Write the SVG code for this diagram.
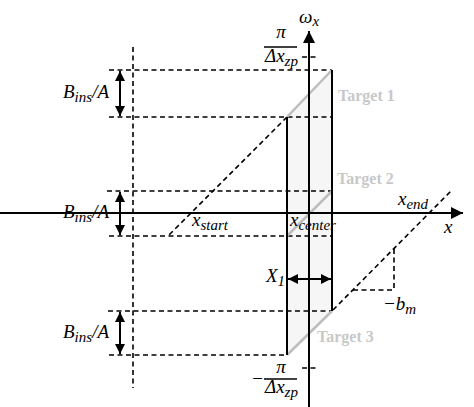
<svg xmlns="http://www.w3.org/2000/svg" width="474" height="407" viewBox="0 0 474 407">
<defs>
<style>
.dash{stroke:#000;stroke-width:1.6;stroke-dasharray:5 3.5;fill:none}
.solid{stroke:#000;stroke-width:2;fill:none}
.gray{stroke:#bdbdbd;stroke-width:2.5;fill:none}
.m{font-family:"Liberation Serif","DejaVu Serif",serif;font-style:italic;font-size:19px;fill:#000}
.s{font-size:15px}
.t{font-family:"Liberation Serif","Times New Roman",serif;font-weight:bold;font-size:16px;fill:#c8c8c8}
</style>
<marker id="ah" viewBox="0 0 10 10" refX="10" refY="5" markerWidth="10" markerHeight="10" markerUnits="userSpaceOnUse" orient="auto-start-reverse">
<path d="M0,0 L10,5 L0,10 Z" fill="#000"/>
</marker>
<marker id="ax" viewBox="0 0 10 10" refX="10" refY="5" markerWidth="12" markerHeight="12" markerUnits="userSpaceOnUse" orient="auto">
<path d="M0,0 L10,5 L0,10 Z" fill="#000"/>
</marker>
</defs>
<rect width="474" height="407" fill="#fff"/>
<g id="band">
<polygon points="287,117 332,70 332,311 287,355" fill="#f6f6f6"/>
</g>
<g id="connectors">
<line class="dash" x1="133" y1="47" x2="133" y2="388"/>
<line class="dash" x1="109" y1="70" x2="332" y2="70"/>
<line class="dash" x1="109" y1="117" x2="332" y2="117"/>
<line class="dash" x1="107" y1="191" x2="332" y2="191"/>
<line class="dash" x1="109" y1="236" x2="332" y2="236"/>
<line class="dash" x1="108" y1="311" x2="332" y2="311"/>
<line class="dash" x1="109" y1="355" x2="287" y2="355"/>
<line class="dash" x1="287" y1="117" x2="168" y2="236"/>
<line class="dash" x1="333" y1="310" x2="452" y2="190"/>
<line class="dash" x1="394" y1="249" x2="394" y2="290"/>
<line class="dash" x1="353" y1="290" x2="394" y2="290"/>
<line class="dash" x1="302" y1="57" x2="317" y2="57"/>
<line class="dash" x1="302" y1="368" x2="317" y2="368"/>
<line class="gray" x1="287" y1="117" x2="332" y2="70"/>
<line class="gray" x1="287" y1="236" x2="332" y2="191"/>
<line class="gray" x1="287" y1="355" x2="332" y2="311"/>
<line class="solid" x1="287" y1="117" x2="287" y2="355"/>
<line class="solid" x1="332" y1="70" x2="332" y2="311"/>
<line class="solid" x1="0" y1="213" x2="463" y2="213" marker-end="url(#ax)"/>
<line class="solid" x1="309" y1="407" x2="309" y2="31" marker-end="url(#ax)"/>
<line class="solid" x1="120" y1="71" x2="120" y2="116" marker-start="url(#ah)" marker-end="url(#ah)"/>
<line class="solid" x1="120" y1="192" x2="120" y2="235" marker-start="url(#ah)" marker-end="url(#ah)"/>
<line class="solid" x1="120" y1="312" x2="120" y2="354" marker-start="url(#ah)" marker-end="url(#ah)"/>
<line class="solid" x1="288" y1="279" x2="331" y2="279" marker-start="url(#ah)" marker-end="url(#ah)"/>
</g>
<g id="labels">
<text class="m" x="63" y="98">B<tspan class="s" dy="4">ins</tspan><tspan dy="-4">/A</tspan></text>
<text class="m" x="63" y="218">B<tspan class="s" dy="4">ins</tspan><tspan dy="-4">/A</tspan></text>
<text class="m" x="63" y="338">B<tspan class="s" dy="4">ins</tspan><tspan dy="-4">/A</tspan></text>
<text class="m" x="299" y="23">ω<tspan class="s" dy="3">x</tspan></text>
<text class="m" x="281" y="38" text-anchor="middle">π</text>
<line x1="264" y1="47" x2="297" y2="47" stroke="#000" stroke-width="1.3"/>
<text class="m" x="265" y="62">Δx<tspan class="s" dy="4">zp</tspan></text>
<text class="m" x="251" y="385">−</text>
<text class="m" x="281" y="373" text-anchor="middle">π</text>
<line x1="264" y1="379" x2="297" y2="379" stroke="#000" stroke-width="1.3"/>
<text class="m" x="265" y="393">Δx<tspan class="s" dy="4">zp</tspan></text>
<text class="m" x="192" y="226">x<tspan class="s" dy="4">start</tspan></text>
<text class="m" x="290" y="226">x<tspan class="s" dy="4">center</tspan></text>
<text class="m" x="398" y="205">x<tspan class="s" dy="4">end</tspan></text>
<text class="m" x="444" y="233">x</text>
<text class="m" x="383" y="310">−b<tspan class="s" dy="4">m</tspan></text>
<text class="m" x="266" y="282">X<tspan class="s" dy="4">1</tspan></text>
</g>
<g id="target1"><text class="t" x="338" y="101">Target 1</text></g>
<g id="target2"><text class="t" x="337" y="184">Target 2</text></g>
<g id="target3"><text class="t" x="317" y="342">Target 3</text></g>
</svg>
